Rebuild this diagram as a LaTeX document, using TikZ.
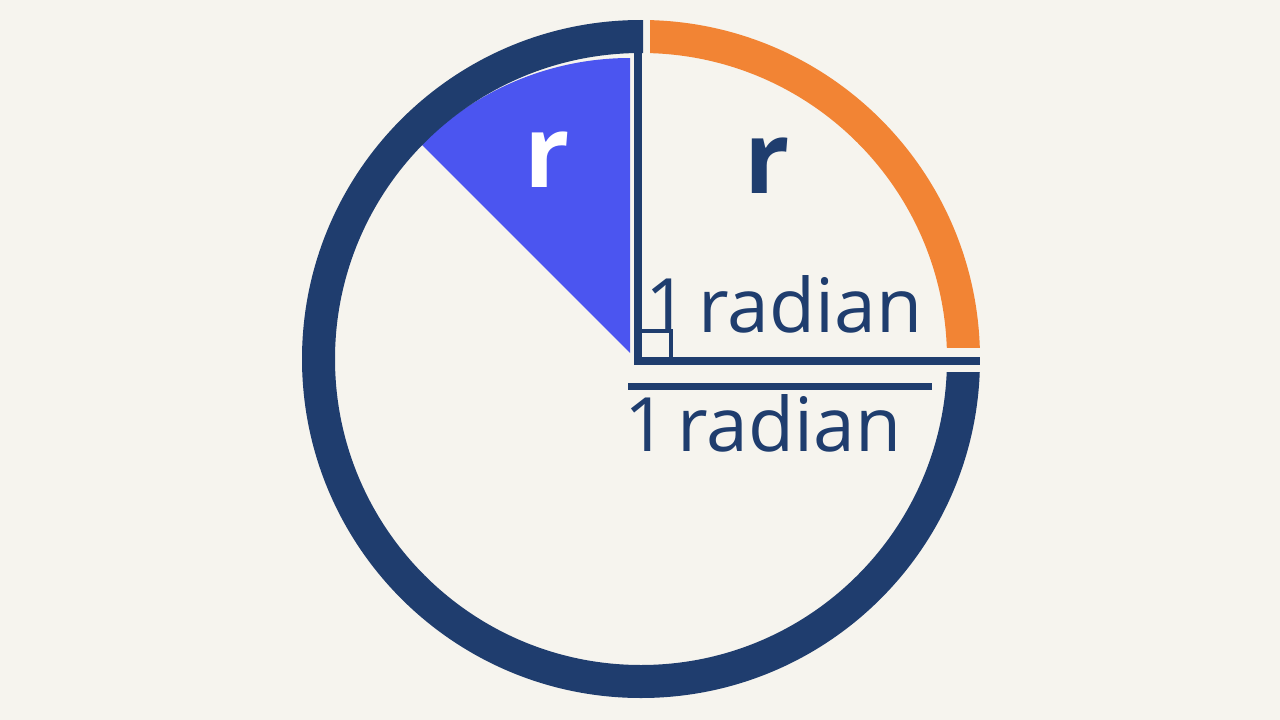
\documentclass[tikz,border=0pt]{standalone}
\usepackage{fontspec}
\setmainfont{Open Sans}[WordSpace=0.55]
\definecolor{bg}{HTML}{F6F4EE}
\definecolor{navy}{HTML}{1F3D6E}
\definecolor{sector}{HTML}{4B55F0}
\definecolor{arcor}{HTML}{F28434}
\tikzset{
  ring/.style={line width=33pt},
  navyline/.style={draw=navy, line width=8pt},
  lbl/.style={text=navy, font=\fontsize{75}{80}\selectfont, inner sep=0pt, anchor=base west},
  rlbl/.style={font=\fontsize{100}{110}\selectfont\bfseries, inner sep=0pt, anchor=base}
}
\begin{document}
\begin{tikzpicture}[x=1pt,y=-1pt]
\fill[bg] (0,0) rectangle (1280,720);
\useasboundingbox (0,0) rectangle (1280,720);
\coordinate (c) at (641,359);
% blue sector
\fill[sector] (630,353) -- (630,58) arc[start angle=270,end angle=225,radius=295] -- cycle;
% navy ring
\begin{scope}
  \clip (0,0) -- (643,0) -- (643,372) -- (1280,372) -- (1280,720) -- (0,720) -- cycle;
  \draw[ring, navy] (c) circle[radius=322.5];
\end{scope}
% orange arc
\begin{scope}
  \clip (650,0) rectangle (1280,347);
  \draw[ring, arcor] (c) circle[radius=322.5];
\end{scope}
% lines
\coordinate (vtop) at (638,20);
\coordinate (corner) at (638,361);
\coordinate (hend) at (980,361);
\draw[navyline] (vtop) -- (638,365);
\draw[navyline] (634,361) -- (hend);
\draw[draw=navy, line width=4pt] (638,331) -- (671,331) -- (671,361);
\draw[draw=navy, line width=7pt] (628,386.5) -- (932,386.5);
% labels
\node[lbl] (top) at (645,332) {1 radian};
\node[lbl] (bot) at (624,451) {1 radian};
\node[rlbl, text=white] (rw) at (547,187) {r};
\node[rlbl, text=navy] (rn) at (767,193) {r};
\end{tikzpicture}
\end{document}
